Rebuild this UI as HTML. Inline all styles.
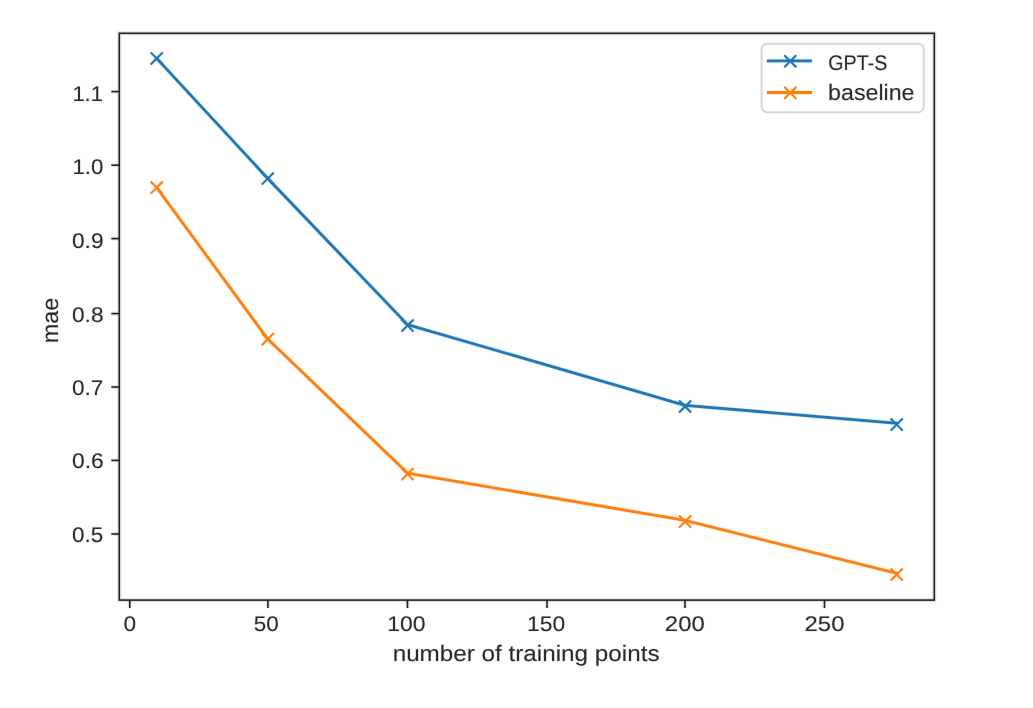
<!DOCTYPE html>
<html><head><meta charset="utf-8"><style>
html,body{margin:0;padding:0;background:#fff;overflow:hidden;}
svg{display:block;}
#w{will-change:transform;}
text{font-family:"Liberation Sans",sans-serif;fill:#2a2a2a;stroke:#2a2a2a;stroke-opacity:0.12;stroke-width:1.1px;paint-order:stroke;text-rendering:geometricPrecision;}
</style></head><body><div id="w">
<svg width="1033" height="708" viewBox="0 0 1033 708">
<rect x="0" y="0" width="1033" height="708" fill="#fff"/>
<line x1="111.30" y1="534.00" x2="119.30" y2="534.00" stroke="#000" stroke-opacity="0.1" stroke-width="4.2"/><line x1="111.30" y1="534.00" x2="119.30" y2="534.00" stroke="#222" stroke-width="1.6"/>
<text x="71.91" y="542.00" font-size="21.2" textLength="31.22" lengthAdjust="spacingAndGlyphs">0.5</text>
<line x1="111.30" y1="460.40" x2="119.30" y2="460.40" stroke="#000" stroke-opacity="0.1" stroke-width="4.2"/><line x1="111.30" y1="460.40" x2="119.30" y2="460.40" stroke="#222" stroke-width="1.6"/>
<text x="71.99" y="468.00" font-size="21.2" textLength="31.75" lengthAdjust="spacingAndGlyphs">0.6</text>
<line x1="111.30" y1="387.00" x2="119.30" y2="387.00" stroke="#000" stroke-opacity="0.1" stroke-width="4.2"/><line x1="111.30" y1="387.00" x2="119.30" y2="387.00" stroke="#222" stroke-width="1.6"/>
<text x="72.00" y="395.00" font-size="21.2" textLength="31.33" lengthAdjust="spacingAndGlyphs">0.7</text>
<line x1="111.30" y1="313.60" x2="119.30" y2="313.60" stroke="#000" stroke-opacity="0.1" stroke-width="4.2"/><line x1="111.30" y1="313.60" x2="119.30" y2="313.60" stroke="#222" stroke-width="1.6"/>
<text x="72.00" y="322.00" font-size="21.2" textLength="31.54" lengthAdjust="spacingAndGlyphs">0.8</text>
<line x1="111.30" y1="238.60" x2="119.30" y2="238.60" stroke="#000" stroke-opacity="0.1" stroke-width="4.2"/><line x1="111.30" y1="238.60" x2="119.30" y2="238.60" stroke="#222" stroke-width="1.6"/>
<text x="72.00" y="248.00" font-size="21.2" textLength="31.54" lengthAdjust="spacingAndGlyphs">0.9</text>
<line x1="111.30" y1="165.20" x2="119.30" y2="165.20" stroke="#000" stroke-opacity="0.1" stroke-width="4.2"/><line x1="111.30" y1="165.20" x2="119.30" y2="165.20" stroke="#222" stroke-width="1.6"/>
<text x="72.43" y="174.00" font-size="21.2" textLength="30.93" lengthAdjust="spacingAndGlyphs">1.0</text>
<line x1="111.30" y1="91.60" x2="119.30" y2="91.60" stroke="#000" stroke-opacity="0.1" stroke-width="4.2"/><line x1="111.30" y1="91.60" x2="119.30" y2="91.60" stroke="#222" stroke-width="1.6"/>
<text x="72.45" y="101.00" font-size="21.2" textLength="30.45" lengthAdjust="spacingAndGlyphs">1.1</text>
<line x1="129.75" y1="600.10" x2="129.75" y2="608.10" stroke="#000" stroke-opacity="0.1" stroke-width="4.2"/><line x1="129.75" y1="600.10" x2="129.75" y2="608.10" stroke="#222" stroke-width="1.6"/>
<text x="123.40" y="631.00" font-size="21.2" textLength="12.66" lengthAdjust="spacingAndGlyphs">0</text>
<line x1="267.90" y1="600.10" x2="267.90" y2="608.10" stroke="#000" stroke-opacity="0.1" stroke-width="4.2"/><line x1="267.90" y1="600.10" x2="267.90" y2="608.10" stroke="#222" stroke-width="1.6"/>
<text x="253.84" y="631.00" font-size="21.2" textLength="24.93" lengthAdjust="spacingAndGlyphs">50</text>
<line x1="407.45" y1="600.10" x2="407.45" y2="608.10" stroke="#000" stroke-opacity="0.1" stroke-width="4.2"/><line x1="407.45" y1="600.10" x2="407.45" y2="608.10" stroke="#222" stroke-width="1.6"/>
<text x="387.38" y="631.00" font-size="21.2" textLength="38.25" lengthAdjust="spacingAndGlyphs">100</text>
<line x1="547.00" y1="600.10" x2="547.00" y2="608.10" stroke="#000" stroke-opacity="0.1" stroke-width="4.2"/><line x1="547.00" y1="600.10" x2="547.00" y2="608.10" stroke="#222" stroke-width="1.6"/>
<text x="526.98" y="631.00" font-size="21.2" textLength="38.25" lengthAdjust="spacingAndGlyphs">150</text>
<line x1="685.00" y1="600.10" x2="685.00" y2="608.10" stroke="#000" stroke-opacity="0.1" stroke-width="4.2"/><line x1="685.00" y1="600.10" x2="685.00" y2="608.10" stroke="#222" stroke-width="1.6"/>
<text x="664.87" y="631.00" font-size="21.2" textLength="39.90" lengthAdjust="spacingAndGlyphs">200</text>
<line x1="824.50" y1="600.10" x2="824.50" y2="608.10" stroke="#000" stroke-opacity="0.1" stroke-width="4.2"/><line x1="824.50" y1="600.10" x2="824.50" y2="608.10" stroke="#222" stroke-width="1.6"/>
<text x="804.57" y="631.00" font-size="21.2" textLength="39.90" lengthAdjust="spacingAndGlyphs">250</text>
<polyline points="156.70,58.40 267.80,178.50 407.50,324.60 685.10,405.30 896.70,423.30" fill="none" stroke="#1f77b4" stroke-opacity="0.15" stroke-width="4.4" stroke-linejoin="round" stroke-linecap="square"/><polyline points="156.70,58.40 267.80,178.50 407.50,324.60 685.10,405.30 896.70,423.30" fill="none" stroke="#1f77b4" stroke-width="2.8" stroke-linejoin="round" stroke-linecap="square"/><path d="M150.65 52.35L162.75 64.45M150.65 64.45L162.75 52.35" stroke="#1f77b4" stroke-opacity="0.15" stroke-width="3.4" fill="none"/><path d="M150.65 52.35L162.75 64.45M150.65 64.45L162.75 52.35" stroke="#1f77b4" stroke-width="2" fill="none"/><path d="M261.75 172.55L273.85 184.65M261.75 184.65L273.85 172.55" stroke="#1f77b4" stroke-opacity="0.15" stroke-width="3.4" fill="none"/><path d="M261.75 172.55L273.85 184.65M261.75 184.65L273.85 172.55" stroke="#1f77b4" stroke-width="2" fill="none"/><path d="M401.45 319.55L413.55 331.65M401.45 331.65L413.55 319.55" stroke="#1f77b4" stroke-opacity="0.15" stroke-width="3.4" fill="none"/><path d="M401.45 319.55L413.55 331.65M401.45 331.65L413.55 319.55" stroke="#1f77b4" stroke-width="2" fill="none"/><path d="M679.05 400.45L691.15 412.55M679.05 412.55L691.15 400.45" stroke="#1f77b4" stroke-opacity="0.15" stroke-width="3.4" fill="none"/><path d="M679.05 400.45L691.15 412.55M679.05 412.55L691.15 400.45" stroke="#1f77b4" stroke-width="2" fill="none"/><path d="M890.65 418.55L902.75 430.65M890.65 430.65L902.75 418.55" stroke="#1f77b4" stroke-opacity="0.15" stroke-width="3.4" fill="none"/><path d="M890.65 418.55L902.75 430.65M890.65 430.65L902.75 418.55" stroke="#1f77b4" stroke-width="2" fill="none"/>
<polyline points="156.70,187.60 267.80,339.10 407.50,473.10 685.10,520.40 896.70,573.30" fill="none" stroke="#ff7f0e" stroke-opacity="0.15" stroke-width="4.4" stroke-linejoin="round" stroke-linecap="square"/><polyline points="156.70,187.60 267.80,339.10 407.50,473.10 685.10,520.40 896.70,573.30" fill="none" stroke="#ff7f0e" stroke-width="2.8" stroke-linejoin="round" stroke-linecap="square"/><path d="M150.65 181.55L162.75 193.65M150.65 193.65L162.75 181.55" stroke="#ff7f0e" stroke-opacity="0.15" stroke-width="3.4" fill="none"/><path d="M150.65 181.55L162.75 193.65M150.65 193.65L162.75 181.55" stroke="#ff7f0e" stroke-width="2" fill="none"/><path d="M261.75 333.15L273.85 345.25M261.75 345.25L273.85 333.15" stroke="#ff7f0e" stroke-opacity="0.15" stroke-width="3.4" fill="none"/><path d="M261.75 333.15L273.85 345.25M261.75 345.25L273.85 333.15" stroke="#ff7f0e" stroke-width="2" fill="none"/><path d="M401.45 468.05L413.55 480.15M401.45 480.15L413.55 468.05" stroke="#ff7f0e" stroke-opacity="0.15" stroke-width="3.4" fill="none"/><path d="M401.45 468.05L413.55 480.15M401.45 480.15L413.55 468.05" stroke="#ff7f0e" stroke-width="2" fill="none"/><path d="M679.05 515.55L691.15 527.65M679.05 527.65L691.15 515.55" stroke="#ff7f0e" stroke-opacity="0.15" stroke-width="3.4" fill="none"/><path d="M679.05 515.55L691.15 527.65M679.05 527.65L691.15 515.55" stroke="#ff7f0e" stroke-width="2" fill="none"/><path d="M890.65 568.55L902.75 580.65M890.65 580.65L902.75 568.55" stroke="#ff7f0e" stroke-opacity="0.15" stroke-width="3.4" fill="none"/><path d="M890.65 568.55L902.75 580.65M890.65 580.65L902.75 568.55" stroke="#ff7f0e" stroke-width="2" fill="none"/>
<rect x="119.30" y="33.30" width="815.00" height="566.80" fill="none" stroke="#000" stroke-opacity="0.1" stroke-width="4.2"/><rect x="119.30" y="33.30" width="815.00" height="566.80" fill="none" stroke="#222" stroke-width="1.6" stroke-linejoin="miter"/>
<text x="392.67" y="660.85" font-size="22.3" textLength="266.88" lengthAdjust="spacingAndGlyphs">number of training points</text>
<text transform="translate(58.45 343.34) rotate(-90)" x="0" y="0" font-size="22.9" textLength="45.59" lengthAdjust="spacingAndGlyphs">mae</text>
<rect x="761.6" y="43.65" width="162.1" height="68.55" rx="5.5" ry="5.5" fill="#fff" stroke="#d8d8d8" stroke-width="2"/>
<line x1="768.4" y1="60.9" x2="810.6" y2="60.9" stroke="#1f77b4" stroke-opacity="0.15" stroke-width="4.4" stroke-linecap="square"/><line x1="768.4" y1="60.9" x2="810.6" y2="60.9" stroke="#1f77b4" stroke-width="2.8" stroke-linecap="square"/>
<path d="M784.25 55.30L796.25 67.30M784.25 67.30L796.25 55.30" stroke="#1f77b4" stroke-opacity="0.15" stroke-width="3.4" fill="none"/><path d="M784.25 55.30L796.25 67.30M784.25 67.30L796.25 55.30" stroke="#1f77b4" stroke-width="2" fill="none"/>
<line x1="768.4" y1="92.5" x2="810.6" y2="92.5" stroke="#ff7f0e" stroke-opacity="0.15" stroke-width="4.4" stroke-linecap="square"/><line x1="768.4" y1="92.5" x2="810.6" y2="92.5" stroke="#ff7f0e" stroke-width="2.8" stroke-linecap="square"/>
<path d="M784.25 86.90L796.25 98.90M784.25 98.90L796.25 86.90" stroke="#ff7f0e" stroke-opacity="0.15" stroke-width="3.4" fill="none"/><path d="M784.25 86.90L796.25 98.90M784.25 98.90L796.25 86.90" stroke="#ff7f0e" stroke-width="2" fill="none"/>
<text x="828.31" y="70.00" font-size="21.2" textLength="59.09" lengthAdjust="spacingAndGlyphs">GPT-S</text>
<text x="828.14" y="99.55" font-size="22.3" textLength="86.36" lengthAdjust="spacingAndGlyphs">baseline</text>
</svg></div></body></html>
